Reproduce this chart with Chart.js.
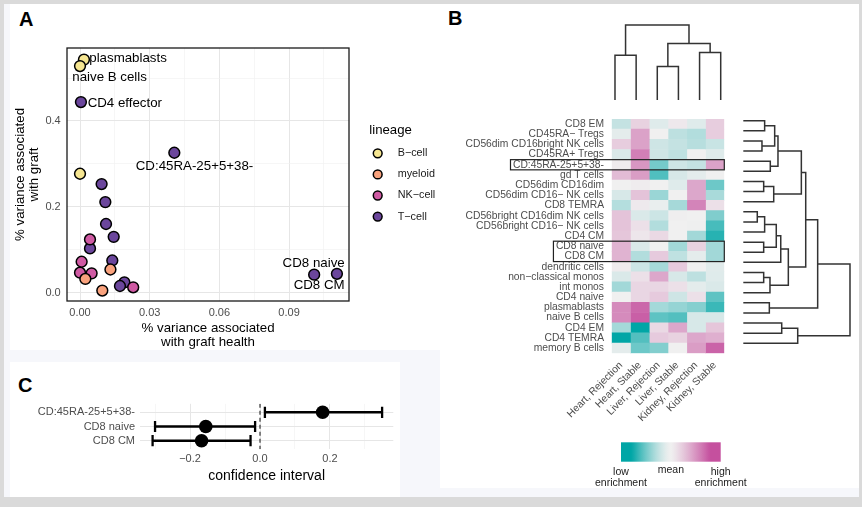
<!DOCTYPE html>
<html>
<head>
<meta charset="utf-8">
<script src="https://cdn.jsdelivr.net/npm/chart.js@4.4.1/dist/chart.umd.min.js"></script>
<style>
  html, body { margin: 0; padding: 0; }
  body { width: 862px; height: 507px; background: #dadada; position: relative; overflow: hidden;
         font-family: 'Liberation Sans', Arial, Helvetica, sans-serif; }
  #sheet { position: absolute; left: 4px; top: 4px; width: 855px; height: 493px; background: #fff; }
  .tint { position: absolute; background: #f6f7fb; }
  .panel { position: absolute; font-weight: bold; font-size: 20px; line-height: 20px; color: #000; }
  canvas { position: absolute; }
</style>
</head>
<body>
<div id="sheet"></div>
<div class="tint" style="left:4px; top:4px; width:6px; height:493px"></div>
<div class="tint" style="left:10px; top:350px; width:430px; height:12px"></div>
<div class="tint" style="left:400px; top:362px; width:40px; height:135px"></div>
<div class="tint" style="left:440px; top:488px; width:419px; height:9px"></div>

<div class="panel" style="left:19px; top:9px">A</div>
<div class="panel" style="left:448px; top:8px">B</div>
<div class="panel" style="left:18px; top:375px">C</div>

<canvas id="scatterA" width="440" height="355" style="left:0; top:0"></canvas>
<canvas id="heatB" width="300" height="390" style="left:450px; top:105px"></canvas>
<canvas id="colDendro" width="128" height="80" style="left:604px; top:20px"></canvas>
<canvas id="rowDendro" width="114" height="234" style="left:741px; top:115px"></canvas>
<canvas id="ciC" width="420" height="140" style="left:0; top:355px"></canvas>

<script>
const FONT = "'Liberation Sans', Arial, Helvetica, sans-serif";
Chart.defaults.font.family = FONT;
Chart.defaults.color = '#4d4d4d';
const toFont = Chart.helpers.toFont;

// ---------- panel A data ----------
const lineageNames = ['B\u2212cell', 'myeloid', 'NK\u2212cell', 'T\u2212cell'];
const lineageColors = ['#f6e691', '#f9a27d', '#cf5aa3', '#6b469c'];

const bCells = [
  { x: 0.0017, y: 0.543, name: 'plasmablasts' },
  { x: 0.0000, y: 0.528, name: 'naive B cells' },
  { x: 0.0000, y: 0.277, name: 'memory B cells' }
];
const myeloidCells = [
  { x: 0.0023, y: 0.032, name: 'dendritic cells' },
  { x: 0.0131, y: 0.054, name: 'non-classical monos' },
  { x: 0.0096, y: 0.005, name: 'int monos' }
];
const nkCells = [
  { x: 0.0043, y: 0.124 },
  { x: 0.0007, y: 0.072 },
  { x: 0.0000, y: 0.0465 },
  { x: 0.0050, y: 0.045 },
  { x: 0.0229, y: 0.0125 }
];
const tCells = [
  { x: 0.0004, y: 0.444, name: 'CD4 effector' },
  { x: 0.0406, y: 0.326, name: 'CD:45RA-25+5+38-' },
  { x: 0.0093, y: 0.253 },
  { x: 0.0109, y: 0.211 },
  { x: 0.0112, y: 0.160 },
  { x: 0.0145, y: 0.130 },
  { x: 0.0043, y: 0.103 },
  { x: 0.0139, y: 0.075 },
  { x: 0.0191, y: 0.024 },
  { x: 0.0172, y: 0.0155 },
  { x: 0.1008, y: 0.042, name: 'CD8 naive' },
  { x: 0.1106, y: 0.044, name: 'CD8 CM' }
];
const lineagePoints = [bCells, myeloidCells, nkCells, tCells];

// text labels next to named points (pixel offsets from the point)
const pointLabels = [
  { name: 'plasmablasts', dx: 5.3, dy: -0.8, align: 'left' },
  { name: 'naive B cells', dx: 29.6, dy: 11.3, align: 'center' },
  { name: 'CD4 effector', dx: 6.7, dy: 1, align: 'left' },
  { name: 'CD:45RA-25+5+38-', dx: 20.2, dy: 14, align: 'center' },
  { name: 'CD8 naive', dx: -0.5, dy: -11.4, align: 'center' },
  { name: 'CD8 CM', dx: -17.8, dy: 12, align: 'center' }
];

const xTicksA = [0, 0.03, 0.06, 0.09];
const xTickLabelsA = ['0.00', '0.03', '0.06', '0.09'];
const xMinorA = [0.015, 0.045, 0.075, 0.105];
const yTicksA = [0, 0.2, 0.4];
const yTickLabelsA = ['0.0', '0.2', '0.4'];
const yMinorA = [0.1, 0.3, 0.5];

// ---------- panel B data ----------
const rowNames = ['CD8 EM', 'CD45RA\u2212 Tregs', 'CD56dim CD16bright NK cells', 'CD45RA+ Tregs',
  'CD:45RA-25+5+38-', 'gd T cells', 'CD56dim CD16dim', 'CD56dim CD16\u2212 NK cells', 'CD8 TEMRA',
  'CD56bright CD16dim NK cells', 'CD56bright CD16\u2212 NK cells', 'CD4 CM', 'CD8 naive', 'CD8 CM',
  'dendritic cells', 'non\u2212classical monos', 'int monos', 'CD4 naive', 'plasmablasts',
  'naive B cells', 'CD4 EM', 'CD4 TEMRA', 'memory B cells'];
const columnNames = ['Heart, Rejection', 'Heart, Stable', 'Liver, Rejection', 'Liver, Stable',
  'Kidney, Rejection', 'Kidney, Stable'];

// scaled enrichment per column, one value per row (top to bottom)
const heartRejection = [-0.3, -0.12, 0.28, -0.18, 0.06, 0.4, 0, -0.2, -0.37, 0.35, 0.35, 0.33,
  0.45, 0.45, 0.06, -0.18, -0.45, 0, 0.68, 0.68, -0.44, -1.0, -0.12];
const heartStable = [0.25, 0.55, 0.55, 0.75, 0.62, 0.58, 0.05, 0.35, 0.07, -0.18, 0.15, 0.1,
  -0.18, -0.38, -0.26, 0.15, 0.22, 0.22, 0.88, 0.92, -1.0, -0.74, -0.65];
const liverRejection = [-0.15, 0, -0.25, -0.25, -0.62, -0.75, 0, -0.48, -0.08, -0.26, -0.38, 0.2,
  0, 0.3, -0.43, 0.52, 0.22, 0.3, -0.44, -0.7, 0.2, 0.3, -0.57];
const liverStable = [0.08, -0.33, -0.3, -0.32, -0.25, -0.2, -0.15, 0, -0.43, 0.03, 0, 0,
  -0.45, -0.32, 0.3, -0.2, 0.15, -0.25, -0.5, -0.74, 0.52, 0.25, 0];
const kidneyRejection = [-0.15, -0.38, -0.36, 0, -0.3, -0.12, 0.52, 0.52, 0.72, 0, -0.03, -0.45,
  0.25, -0.12, 0, -0.33, -0.12, 0.15, -0.56, -0.2, -0.2, 0.52, 0.58];
const kidneyStable = [0.28, 0.28, -0.28, -0.15, 0.55, 0, -0.65, -0.42, 0.15, -0.58, -0.78, -0.88,
  -0.45, -0.45, -0.14, -0.15, -0.18, -0.7, -0.82, -0.2, 0.33, 0.47, 0.9];
const columnValues = [heartRejection, heartStable, liverRejection, liverStable, kidneyRejection, kidneyStable];

const boxedRows = [[4, 4], [12, 13]];

// hclust style merges: negative = leaf (1-based), positive = earlier merge (1-based)
const colMerge = [[-3, -4], [-1, -2], [-5, -6], [1, 3], [2, 4]];
const colHeight = [0.448, 0.596, 0.633, 0.754, 1.0];
const rowMerge = [[-1, -2], [-3, -4], [1, 2], [-5, -6], [3, 4], [-7, -8], [6, -9], [5, 7],
  [-10, -11], [9, -12], [-13, -14], [10, 11], [12, -15], [-16, -17], [14, -18], [13, 15],
  [8, 16], [-19, -20], [17, 18], [-21, -22], [20, -23], [19, 21]];
const rowHeight = [0.200, 0.175, 0.294, 0.253, 0.325, 0.191, 0.285, 0.544, 0.131, 0.200, 0.191,
  0.309, 0.351, 0.191, 0.250, 0.422, 0.585, 0.244, 0.697, 0.360, 0.510, 1.0];

// ---------- panel C data ----------
const ciRows = ['CD:45RA-25+5+38-', 'CD8 naive', 'CD8 CM'];
const ciEstimate = [0.179, -0.155, -0.167];
const ciLower = [0.014, -0.300, -0.307];
const ciUpper = [0.349, -0.014, -0.027];
const xTicksC = [-0.2, 0, 0.2];
const xTickLabelsC = ['\u22120.2', '0.0', '0.2'];
const xMinorC = [-0.3, -0.1, 0.1, 0.3];

// ---------- helpers ----------
const near = (a, b) => Math.abs(a - b) < 1e-9;
const labelFor = (v, ticks, labels) => {
  const i = ticks.findIndex(t => near(t, v));
  return i < 0 ? '' : labels[i];
};
const isMajor = (v, ticks) => ticks.some(t => near(t, v));

const lowColor = [0, 166, 166], midColor = [240, 240, 240], highColor = [197, 80, 158];
function heatColor(v) {
  const t = Math.min(1, Math.abs(v));
  const end = v < 0 ? lowColor : highColor;
  const g = v < 0 ? Math.pow(t, 1.4) : Math.pow(t, 1.2);
  const c = midColor.map((m, k) => Math.round(m + (end[k] - m) * g));
  return `rgb(${c[0]},${c[1]},${c[2]})`;
}

function dendroSegments(merge, height, leafAlongX) {
  const pos = [];
  return merge.map(([a, b], k) => {
    const pa = a < 0 ? -a - 1 : pos[a - 1], ha = a < 0 ? 0 : height[a - 1];
    const pb = b < 0 ? -b - 1 : pos[b - 1], hb = b < 0 ? 0 : height[b - 1];
    pos[k] = (pa + pb) / 2;
    const h = height[k];
    return [[pa, ha], [pa, h], [pb, h], [pb, hb]].map(([p, v]) => leafAlongX ? { x: p, y: v } : { x: v, y: p });
  });
}

// ---------- panel A ----------
const panelBox = {
  id: 'panelBox',
  afterDatasetsDraw(chart) {
    const { ctx, chartArea: a } = chart;
    ctx.save();
    ctx.strokeStyle = '#1a1a1a';
    ctx.lineWidth = 1.3;
    ctx.strokeRect(a.left, a.top, a.right - a.left, a.bottom - a.top);
    ctx.restore();
  }
};

const pointLabelPlugin = {
  id: 'pointLabels',
  afterDatasetsDraw(chart) {
    const { ctx } = chart;
    ctx.save();
    ctx.font = toFont({ size: 13.3, family: FONT }).string;
    ctx.fillStyle = '#000';
    ctx.textBaseline = 'middle';
    pointLabels.forEach(lab => {
      chart.data.datasets.forEach((ds, di) => {
        const idx = ds.data.findIndex(p => p.name === lab.name);
        if (idx < 0) return;
        const el = chart.getDatasetMeta(di).data[idx];
        ctx.textAlign = lab.align;
        ctx.fillText(lab.name, el.x + lab.dx, el.y + lab.dy);
      });
    });
    ctx.restore();
  }
};

const lineageLegend = {
  id: 'lineageLegend',
  afterDraw(chart) {
    const { ctx, chartArea } = chart;
    const x0 = chartArea.right + 20.3;
    ctx.save();
    ctx.textBaseline = 'middle';
    ctx.textAlign = 'left';
    ctx.fillStyle = '#000';
    ctx.font = toFont({ size: 13.2, family: FONT }).string;
    ctx.fillText('lineage', x0, 130.7);
    ctx.font = toFont({ size: 10.8, family: FONT }).string;
    chart.data.datasets.forEach((ds, i) => {
      const y = 153.3 + i * 21.1;
      ctx.beginPath();
      ctx.arc(x0 + 8.4, y, 4.4, 0, Math.PI * 2);
      ctx.fillStyle = ds.backgroundColor;
      ctx.fill();
      ctx.lineWidth = 1.5;
      ctx.strokeStyle = '#000';
      ctx.stroke();
      ctx.fillStyle = '#1a1a1a';
      ctx.fillText(ds.label, x0 + 28.4, y);
    });
    ctx.restore();
  }
};

const gridStyle = (majors) => ({
  drawTicks: false,
  color: c => (c.tick && isMajor(c.tick.value, majors)) ? '#e6e6e6' : '#f0f0f0',
  lineWidth: c => (c.tick && isMajor(c.tick.value, majors)) ? 1 : 0.6
});

new Chart(document.getElementById('scatterA'), {
  type: 'scatter',
  data: {
    datasets: lineageNames.map((name, i) => ({
      label: name,
      data: lineagePoints[i],
      backgroundColor: lineageColors[i],
      borderColor: '#000',
      borderWidth: 1.5,
      pointRadius: 5.4,
      pointHoverRadius: 5.4
    }))
  },
  options: {
    responsive: false,
    animation: false,
    layout: { padding: { top: 48, right: 91, left: 0, bottom: 0 } },
    plugins: { legend: { display: false }, tooltip: { enabled: false } },
    scales: {
      x: {
        type: 'linear', min: -0.0056, max: 0.1158,
        afterBuildTicks: s => { s.ticks = [...xTicksA, ...xMinorA].sort((a, b) => a - b).map(v => ({ value: v })); },
        afterFit: s => { s.height = 54; },
        ticks: { autoSkip: false, maxRotation: 0, padding: 5, font: { size: 11 }, callback: v => labelFor(v, xTicksA, xTickLabelsA) },
        grid: gridStyle(xTicksA),
        border: { display: false },
        title: { display: true, text: ['% variance associated', 'with graft health'], color: '#000',
                 font: { size: 13.3, lineHeight: 1.05 }, padding: { top: 2, bottom: 6 } }
      },
      y: {
        type: 'linear', min: -0.0194, max: 0.570,
        afterBuildTicks: s => { s.ticks = [...yTicksA, ...yMinorA].sort((a, b) => a - b).map(v => ({ value: v })); },
        afterFit: s => { s.width = 67; },
        ticks: { autoSkip: false, padding: 6.3, font: { size: 11 }, callback: v => labelFor(v, yTicksA, yTickLabelsA) },
        grid: gridStyle(yTicksA),
        border: { display: false },
        title: { display: true, text: ['% variance associated', 'with graft'], color: '#000',
                 font: { size: 13.3, lineHeight: 1.05 }, padding: { top: 13.7, bottom: 2 } }
      }
    }
  },
  plugins: [panelBox, pointLabelPlugin, lineageLegend]
});

// ---------- panel B heatmap ----------
const rowFont = { size: 10.3 };
const heatExtras = {
  id: 'heatExtras',
  afterDraw(chart) {
    const { ctx, chartArea: a, scales: { y } } = chart;
    const rowH = (a.bottom - a.top) / rowNames.length;
    ctx.save();
    // boxes around highlighted rows
    ctx.font = toFont({ size: rowFont.size, family: FONT }).string;
    ctx.strokeStyle = '#222';
    ctx.lineWidth = 1.2;
    boxedRows.forEach(([r0, r1]) => {
      let w = 0;
      for (let r = r0; r <= r1; r++) w = Math.max(w, ctx.measureText(rowNames[r]).width);
      const left = a.left - 7.7 - w - 2.5;
      const top = y.getPixelForValue(r0) - rowH / 2;
      const bottom = y.getPixelForValue(r1) + rowH / 2;
      ctx.strokeRect(left, top, a.right - left, bottom - top);
    });
    // colour bar
    const bx = a.left + 9.3, bw = 99.7, by = a.bottom + 89, bh = 19.4;
    const grad = ctx.createLinearGradient(bx, 0, bx + bw, 0);
    const lo = -1.27, hi = 1.27, steps = 40;
    for (let k = 0; k <= steps; k++) {
      grad.addColorStop(k / steps, heatColor(lo + (hi - lo) * k / steps));
    }
    ctx.fillStyle = grad;
    ctx.fillRect(bx, by, bw, bh);
    ctx.fillStyle = '#1a1a1a';
    ctx.textAlign = 'center';
    ctx.textBaseline = 'middle';
    ctx.font = toFont({ size: 10.5, family: FONT }).string;
    ctx.fillText('low', bx, by + 30);
    ctx.fillText('enrichment', bx, by + 41);
    ctx.fillText('mean', bx + bw / 2, by + 27.7);
    ctx.fillText('high', bx + bw, by + 30);
    ctx.fillText('enrichment', bx + bw, by + 41);
    ctx.restore();
  }
};

new Chart(document.getElementById('heatB'), {
  type: 'bar',
  data: {
    labels: rowNames,
    datasets: columnValues.map((vals, c) => ({
      label: columnNames[c],
      data: vals.map(() => 1),
      backgroundColor: vals.map(heatColor),
      borderWidth: 0,
      barPercentage: 1,
      categoryPercentage: 1
    }))
  },
  options: {
    indexAxis: 'y',
    responsive: false,
    animation: false,
    layout: { padding: { top: 6, right: 25.7, left: 0, bottom: 0 } },
    plugins: { legend: { display: false }, tooltip: { enabled: false } },
    scales: {
      x: {
        type: 'linear', stacked: true, min: 0, max: columnNames.length,
        afterBuildTicks: s => { s.ticks = columnNames.map((_, i) => ({ value: i + 0.5 })); },
        afterFit: s => { s.height = 141.7; },
        ticks: { autoSkip: false, minRotation: 45, maxRotation: 45, padding: 6, font: rowFont,
                 callback: (v, i) => columnNames[i] },
        grid: { display: false, drawTicks: false },
        border: { display: false }
      },
      y: {
        type: 'category', stacked: true,
        afterFit: s => { s.width = 161.7; },
        ticks: { autoSkip: false, padding: 7.7, font: rowFont },
        grid: { display: false, drawTicks: false },
        border: { display: false }
      }
    }
  },
  plugins: [heatExtras]
});

// ---------- dendrograms ----------
function dendroChart(id, segs, xRange, yRange, reverseY) {
  return new Chart(document.getElementById(id), {
    type: 'scatter',
    data: {
      datasets: segs.map(seg => ({
        data: seg, showLine: true, borderColor: '#333', borderWidth: 1.5,
        pointRadius: 0, tension: 0, clip: false
      }))
    },
    options: {
      responsive: false,
      animation: false,
      layout: { padding: 0 },
      plugins: { legend: { display: false }, tooltip: { enabled: false } },
      scales: {
        x: { type: 'linear', display: false, min: xRange[0], max: xRange[1] },
        y: { type: 'linear', display: false, min: yRange[0], max: yRange[1], reverse: reverseY }
      }
    }
  });
}
dendroChart('colDendro', dendroSegments(colMerge, colHeight, true), [-0.52, 5.534], [0, 1.0667], false);
dendroChart('rowDendro', dendroSegments(rowMerge, rowHeight, false), [-0.0216, 1.0469], [-0.563, 22.56], true);

// ---------- panel C ----------
new Chart(document.getElementById('ciC'), {
  type: 'scatter',
  data: {
    datasets: [
      {
        data: ciRows.map((_, i) => ({ x: ciEstimate[i], y: i })),
        backgroundColor: '#000', borderWidth: 0, pointRadius: 6.8, pointHoverRadius: 6.8
      },
      ...ciRows.map((_, i) => ({
        data: [{ x: ciLower[i], y: i }, { x: ciUpper[i], y: i }],
        showLine: true, borderColor: '#000', borderWidth: 2.6,
        pointStyle: 'line', rotation: 90, pointRadius: 5.6, pointBorderWidth: 2.3,
        pointBorderColor: '#000', pointHoverRadius: 5.6
      })),
      {
        data: [{ x: 0, y: -0.6 }, { x: 0, y: 2.6 }],
        showLine: true, borderColor: '#222', borderWidth: 1.1, borderDash: [4, 3], pointRadius: 0
      }
    ]
  },
  options: {
    responsive: false,
    animation: false,
    layout: { padding: { top: 48.8, right: 26.7, left: 0, bottom: 0 } },
    plugins: { legend: { display: false }, tooltip: { enabled: false } },
    scales: {
      x: {
        type: 'linear', min: -0.343, max: 0.381,
        afterBuildTicks: s => { s.ticks = [...xTicksC, ...xMinorC].sort((a, b) => a - b).map(v => ({ value: v })); },
        afterFit: s => { s.height = 45.8; },
        ticks: { autoSkip: false, maxRotation: 0, padding: 3.2, font: { size: 11 }, callback: v => labelFor(v, xTicksC, xTickLabelsC) },
        grid: gridStyle(xTicksC),
        border: { display: false },
        title: { display: true, text: 'confidence interval', color: '#000',
                 font: { size: 14, lineHeight: 1.1 }, padding: { top: 2, bottom: 11.3 } }
      },
      y: {
        type: 'linear', min: -0.6, max: 2.6, reverse: true,
        afterBuildTicks: s => { s.ticks = ciRows.map((_, i) => ({ value: i })); },
        afterFit: s => { s.width = 140; },
        ticks: { autoSkip: false, padding: 5, font: { size: 11 }, callback: v => ciRows[v] },
        grid: { drawTicks: false, color: '#e6e6e6', lineWidth: 1 },
        border: { display: false }
      }
    }
  }
});
</script>
</body>
</html>
